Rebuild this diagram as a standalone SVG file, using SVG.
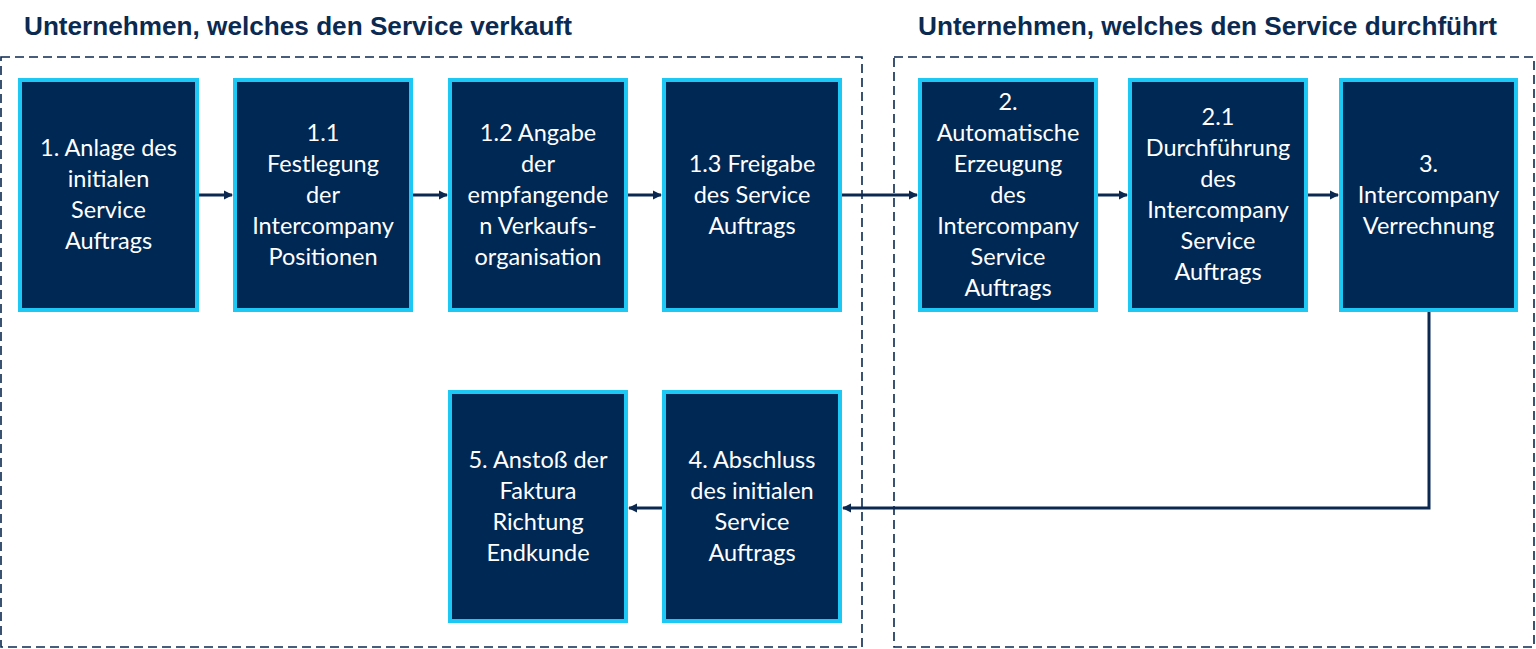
<svg xmlns="http://www.w3.org/2000/svg" width="1536" height="649" viewBox="0 0 1536 649">
<style>
.title{font-family:"Liberation Sans",Arial,sans-serif;font-weight:bold;font-size:25.5px;fill:#0b2a52}
.zone{fill:none;stroke:#0b2850;stroke-width:1.6;stroke-dasharray:9 5}
.box{fill:#002855;stroke:#1ec8f5;stroke-width:4}
.lbl{font-family:Lato,"Open Sans",sans-serif;font-size:23.5px;fill:#ffffff;text-anchor:middle}
.con{fill:none;stroke:#0b2850;stroke-width:3}
</style>
<defs>
<marker id="ah" markerWidth="10" markerHeight="10" refX="8" refY="5" orient="auto" markerUnits="userSpaceOnUse">
<path d="M0,0.5 L9,5 L0,9.5 Z" fill="#0b2850"/>
</marker>
</defs>
<rect width="1536" height="649" fill="#ffffff"/>
<text class="title" x="24" y="35" textLength="548" lengthAdjust="spacingAndGlyphs">Unternehmen, welches den Service verkauft</text>
<text class="title" x="918" y="35" textLength="579" lengthAdjust="spacingAndGlyphs">Unternehmen, welches den Service durchführt</text>
<rect class="zone" x="1" y="57" width="861" height="590"/>
<rect class="zone" x="894" y="57" width="640" height="590"/>

<g id="connectors">
<line class="con" x1="199" y1="195" x2="232" y2="195" marker-end="url(#ah)"/>
<line class="con" x1="413" y1="195" x2="447" y2="195" marker-end="url(#ah)"/>
<line class="con" x1="628" y1="195" x2="661" y2="195" marker-end="url(#ah)"/>
<line class="con" x1="842" y1="195" x2="917" y2="195" marker-end="url(#ah)"/>
<line class="con" x1="1098" y1="195" x2="1127" y2="195" marker-end="url(#ah)"/>
<line class="con" x1="1308" y1="195" x2="1338" y2="195" marker-end="url(#ah)"/>
<polyline class="con" points="1429,312 1429,508 843,508" marker-end="url(#ah)"/>
<line class="con" x1="662" y1="508" x2="629" y2="508" marker-end="url(#ah)"/>
</g>

<g id="n1"><rect class="box" x="20" y="80" width="177" height="230"/>
<text class="lbl"><tspan x="108.5" y="156">1. Anlage des</tspan><tspan x="108.5" y="187">initialen</tspan><tspan x="108.5" y="218">Service</tspan><tspan x="108.5" y="249">Auftrags</tspan></text></g>
<g id="n1_1"><rect class="box" x="235" y="80" width="176" height="230"/>
<text class="lbl"><tspan x="323" y="141">1.1</tspan><tspan x="323" y="172">Festlegung</tspan><tspan x="323" y="203">der</tspan><tspan x="323" y="234">Intercompany</tspan><tspan x="323" y="265">Positionen</tspan></text></g>
<g id="n1_2"><rect class="box" x="450" y="80" width="176" height="230"/>
<text class="lbl"><tspan x="538" y="141">1.2 Angabe</tspan><tspan x="538" y="172">der</tspan><tspan x="538" y="203">empfangende</tspan><tspan x="538" y="234">n Verkaufs-</tspan><tspan x="538" y="265">organisation</tspan></text></g>
<g id="n1_3"><rect class="box" x="664" y="80" width="176" height="230"/>
<text class="lbl"><tspan x="752" y="172">1.3 Freigabe</tspan><tspan x="752" y="203">des Service</tspan><tspan x="752" y="234">Auftrags</tspan></text></g>
<g id="n2"><rect class="box" x="920" y="80" width="176" height="230"/>
<text class="lbl"><tspan x="1008" y="110">2.</tspan><tspan x="1008" y="141">Automatische</tspan><tspan x="1008" y="172">Erzeugung</tspan><tspan x="1008" y="203">des</tspan><tspan x="1008" y="234">Intercompany</tspan><tspan x="1008" y="265">Service</tspan><tspan x="1008" y="296">Auftrags</tspan></text></g>
<g id="n2_1"><rect class="box" x="1130" y="80" width="176" height="230"/>
<text class="lbl"><tspan x="1218" y="125">2.1</tspan><tspan x="1218" y="156">Durchführung</tspan><tspan x="1218" y="187">des</tspan><tspan x="1218" y="218">Intercompany</tspan><tspan x="1218" y="249">Service</tspan><tspan x="1218" y="280">Auftrags</tspan></text></g>
<g id="n3"><rect class="box" x="1341" y="80" width="175" height="230"/>
<text class="lbl"><tspan x="1428.5" y="172">3.</tspan><tspan x="1428.5" y="203">Intercompany</tspan><tspan x="1428.5" y="234">Verrechnung</tspan></text></g>
<g id="n4"><rect class="box" x="664" y="392" width="176" height="229"/>
<text class="lbl"><tspan x="752" y="468">4. Abschluss</tspan><tspan x="752" y="499">des initialen</tspan><tspan x="752" y="530">Service</tspan><tspan x="752" y="561">Auftrags</tspan></text></g>
<g id="n5"><rect class="box" x="450" y="392" width="176" height="229"/>
<text class="lbl"><tspan x="538" y="468">5. Anstoß der</tspan><tspan x="538" y="499">Faktura</tspan><tspan x="538" y="530">Richtung</tspan><tspan x="538" y="561">Endkunde</tspan></text></g>
</svg>
